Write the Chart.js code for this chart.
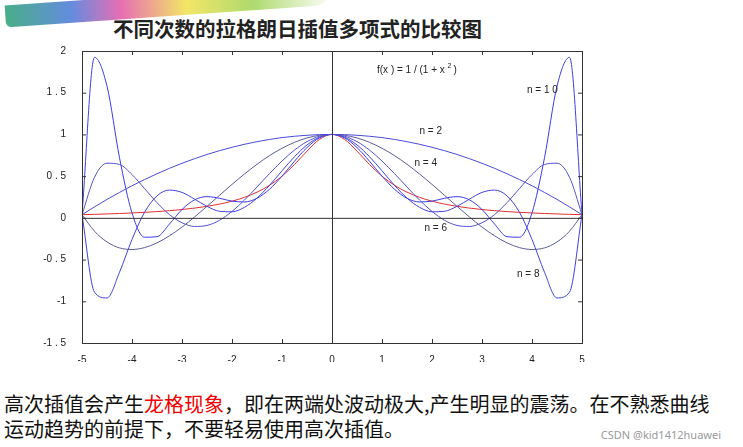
<!DOCTYPE html>
<html>
<head>
<meta charset="utf-8">
<script src="https://cdn.jsdelivr.net/npm/chart.js@4"></script>
<style>
  body { margin: 0; width: 743px; height: 447px; background: #fff; position: relative; overflow: hidden; font-family: "Noto Sans CJK SC", sans-serif; }
  #swoosh { position: absolute; left: 5px; top: -6px; width: 330px; height: 22px; transform: rotate(-4deg); background: linear-gradient(90deg, #1a9a6a, #3d6fd6 20%, #e04aa0 35%, #f0e040 55%, #9ad04a 75%, rgba(255,255,255,0)); opacity: .8; border-radius: 0 0 40px 10px; }
  #title { position: absolute; left: 113px; top: 15px; font-size: 20.5px; line-height: 26px; font-weight: bold; color: #222; }
  #box { position: absolute; left: 30px; top: 37px; width: 560px; height: 325px; }
  .txt { position: absolute; left: 4px; font-size: 20px; line-height: 26px; color: #111; white-space: nowrap; }
  #mark { position: absolute; right: 22px; top: 427px; font-size: 11px; color: #999; font-family: "Noto Sans", sans-serif; }
</style>
</head>
<body>
<div id="swoosh"></div>
<div id="title">不同次数的拉格朗日插值多项式的比较图</div>
<div id="box"><canvas id="c"></canvas></div>
<div class="txt" style="top:391px">高次插值会产生<span style="color:#e00">龙格现象</span>，即在两端处波动极大,产生明显的震荡。在不熟悉曲线</div>
<div class="txt" style="top:416px">运动趋势的前提下，不要轻易使用高次插值。</div>
<div id="mark">CSDN @kid1412huawei</div>
<script>
const xs = [-5,-4.75,-4.5,-4.25,-4,-3.75,-3.5,-3.25,-3,-2.75,-2.5,-2.25,-2,-1.75,-1.5,-1.25,-1,-0.75,-0.5,-0.25,
  0,0.25,0.5,0.75,1,1.25,1.5,1.75,2,2.25,2.5,2.75,3,3.25,3.5,3.75,4,4.25,4.5,4.75,5];
const fx = [.038,.042,.047,.052,.059,.066,.075,.086,.1,.117,.138,.165,.2,.246,.308,.39,.5,.64,.8,.941,
  1,.941,.8,.64,.5,.39,.308,.246,.2,.165,.138,.117,.1,.086,.075,.066,.059,.052,.047,.042,.038];
const n2 = [.038,.132,.221,.305,.385,.459,.529,.594,.654,.709,.760,.805,.846,.882,.913,.940,.962,.978,.990,.998,
  1,.998,.990,.978,.962,.940,.913,.882,.846,.805,.760,.709,.654,.594,.529,.459,.385,.305,.221,.132,.038];
const n4 = [.038,-.160,-.289,-.360,-.379,-.357,-.300,-.215,-.110,.010,.138,.270,.401,.526,.642,.746,.834,.905,.958,.989,
  1,.989,.958,.905,.834,.746,.642,.526,.401,.270,.138,.010,-.110,-.215,-.300,-.357,-.379,-.360,-.289,-.160,.038];
const n6 = [.038,.487,.655,.640,.519,.352,.182,.039,-.059,-.103,-.091,-.029,.077,.214,.370,.530,.681,.813,.914,.978,
  1,.978,.914,.813,.681,.530,.370,.214,.077,-.029,-.091,-.103,-.059,.039,.182,.352,.519,.640,.655,.487,.038];
const n8 = [.038,-.891,-.960,-.652,-.259,.066,.264,.333,.305,.225,.138,.079,.073,.127,.237,.390,.564,.733,.874,.967,
  1,.967,.874,.733,.564,.390,.237,.127,.073,.079,.138,.225,.305,.333,.264,.066,-.259,-.652,-.960,-.891,.038];
const n10 = [.038,1.924,1.579,.720,.059,-.232,-.226,-.073,.1,.216,.254,.235,.2,.191,.235,.343,.5,.679,.843,.959,
  1,.959,.843,.679,.5,.343,.235,.191,.2,.235,.254,.216,.1,-.073,-.226,-.232,.059,.720,1.579,1.924,.038];
const xTicks = [-5,-4,-3,-2,-1,0,1,2,3,4,5];
const yTicks = [-1.5,-1,-0.5,0,0.5,1,1.5,2];
const yLabels = {"-1.5":"-1 . 5","-1":"-1","-0.5":"-0 . 5","0":"0","0.5":"0 . 5","1":"1","1.5":"1 . 5","2":"2"};
const notes = [
  {x: 0.9, y: 1.77, t: "f(x ) = 1 / (1 + x ", sup: "2", tail: ")"},
  {x: 3.9, y: 1.53, t: "n = 1 0"},
  {x: 1.75, y: 1.04, t: "n = 2"},
  {x: 1.65, y: 0.66, t: "n = 4"},
  {x: 1.85, y: -0.12, t: "n = 6"},
  {x: 3.7, y: -0.68, t: "n = 8"}
];

function ser(data, color, w) {
  return { data: xs.map((x, i) => ({x: x, y: data[i]})), borderColor: color, borderWidth: w || 1,
    pointRadius: 0, cubicInterpolationMode: 'monotone', fill: false };
}

const framePlugin = {
  id: 'frame',
  afterDatasetsDraw(chart) {
    const {ctx, chartArea: a, scales: {x, y}} = chart;
    ctx.save();
    ctx.strokeStyle = '#333';
    ctx.lineWidth = 1;
    ctx.strokeRect(a.left + .5, a.top + .5, a.right - a.left, a.bottom - a.top);
    ctx.beginPath();
    const x0 = x.getPixelForValue(0), y0 = y.getPixelForValue(0);
    ctx.moveTo(x0 + .5, a.top); ctx.lineTo(x0 + .5, a.bottom);
    ctx.moveTo(a.left, y0 + .5); ctx.lineTo(a.right, y0 + .5);
    xTicks.forEach(v => { const p = x.getPixelForValue(v) + .5;
      ctx.moveTo(p, a.top); ctx.lineTo(p, a.top + 4); ctx.moveTo(p, a.bottom); ctx.lineTo(p, a.bottom - 4); });
    yTicks.forEach(v => { const p = y.getPixelForValue(v) + .5;
      ctx.moveTo(a.left, p); ctx.lineTo(a.left + 4, p); ctx.moveTo(a.right, p); ctx.lineTo(a.right - 4, p); });
    ctx.stroke();
    ctx.fillStyle = '#222';
    ctx.font = '10px "Liberation Sans", Arial';
    ctx.textBaseline = 'middle';
    notes.forEach(n => {
      const px = x.getPixelForValue(n.x), py = y.getPixelForValue(n.y);
      ctx.fillText(n.t, px, py);
      if (n.sup) {
        const w = ctx.measureText(n.t).width;
        ctx.font = '7px "Liberation Sans", Arial';
        ctx.fillText(n.sup, px + w, py - 4);
        const w2 = ctx.measureText(n.sup + ' ').width;
        ctx.font = '10px "Liberation Sans", Arial';
        ctx.fillText(n.tail, px + w + w2, py);
      }
    });
    ctx.restore();
  }
};

new Chart(document.getElementById('c'), {
  type: 'line',
  data: { datasets: [
    ser(n2, '#4a4ad8'), ser(n4, '#5a5a9a'), ser(n6, '#5050d0'), ser(n8, '#4040e0'),
    ser(n10, '#3c3ce8'), ser(fx, '#e03030')
  ]},
  options: {
    responsive: true, maintainAspectRatio: false, animation: false,
    plugins: { legend: {display: false}, tooltip: {enabled: false} },
    layout: { padding: {top: 3, right: 8, left: 0, bottom: 0} },
    scales: {
      x: { type: 'linear', min: -5, max: 5,
        afterBuildTicks: s => { s.ticks = xTicks.map(v => ({value: v})); },
        afterFit: s => { s.height = 19; },
        grid: {display: false}, border: {display: false},
        ticks: { color: '#222', font: {size: 10, family: '"Liberation Sans", Arial'}, padding: 3, maxRotation: 0 } },
      y: { min: -1.5, max: 2,
        afterBuildTicks: s => { s.ticks = yTicks.map(v => ({value: v})); },
        afterFit: s => { s.width = 52; },
        grid: {display: false}, border: {display: false},
        ticks: { color: '#222', font: {size: 10, family: '"Liberation Sans", Arial'}, padding: 8,
          callback: v => yLabels[String(v)] } }
    }
  },
  plugins: [framePlugin]
});
</script>
</body>
</html>
